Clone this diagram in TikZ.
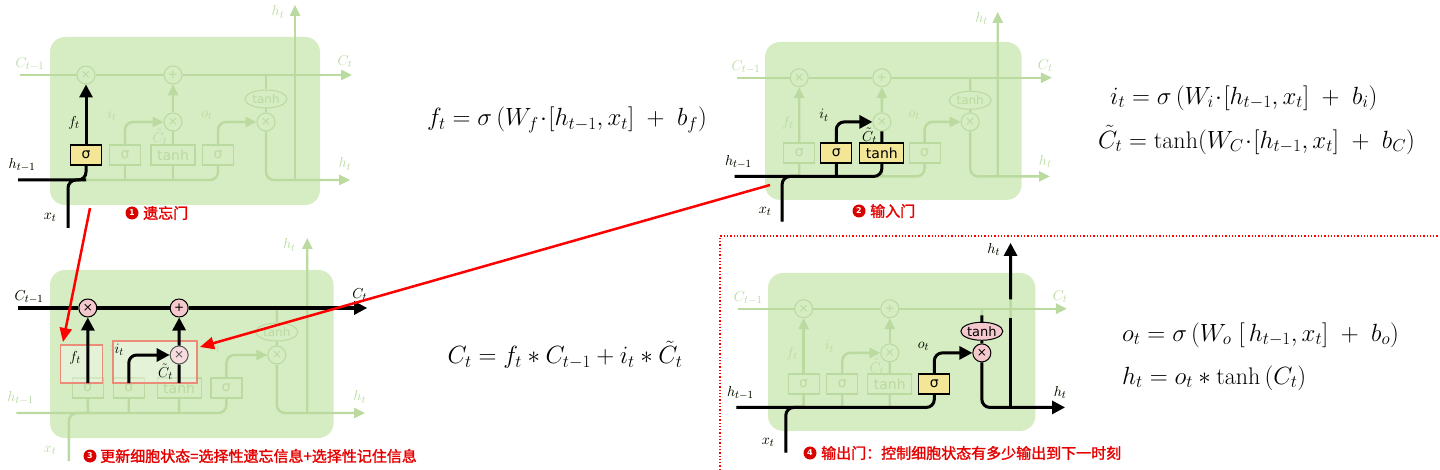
\documentclass[tikz,border=0pt]{standalone}
\usepackage{fontspec}
\usepackage{amsmath}
\usetikzlibrary{arrows.meta,shapes.geometric}
\newfontfamily\gf{DejaVu Sans}
\newfontfamily\cjk[FakeBold=1.6]{Noto Sans CJK SC}
\definecolor{cellbg}{RGB}{214,236,194}
\definecolor{faintc}{RGB}{186,218,160}
\definecolor{gatey}{RGB}{243,230,150}
\definecolor{opk}{RGB}{245,200,205}
\definecolor{salmon}{RGB}{235,140,120}
\tikzset{
 faint/.style={draw=faintc, line width=2.4pt},
 blk/.style={draw=black, line width=3pt},
 tip/.style={-{Triangle[length=11pt,width=10pt]}},
 btip/.style={-{Triangle[length=13pt,width=13pt]}},
 gate/.style={draw=faintc, line width=1.2pt, minimum width=31pt, minimum height=20pt, inner sep=0pt, font=\gf\fontsize{14}{14}\selectfont, text=faintc},
 op/.style={circle, draw=faintc, line width=1pt, minimum size=18pt, inner sep=0pt, font=\gf\fontsize{12}{12}\selectfont, text=faintc},
 lab/.style={text=faintc, font=\fontsize{15.5}{15}\selectfont, inner sep=0pt},
 blab/.style={text=black, font=\fontsize{15.5}{15}\selectfont, inner sep=0pt},
 hot/.style={fill=gatey, draw=black, text=black},
 hotop/.style={fill=opk, draw=black, text=black},
 redarr/.style={draw=red, line width=2.5pt, -{Triangle[length=14pt,width=12pt]}},
 badge/.style={circle, fill=red!85!black, text=white, inner sep=0pt, minimum size=13pt, font=\gf\bfseries\fontsize{8}{8}\selectfont},
 cn/.style={text=red!90!black, font=\cjk\fontsize{15}{15}\selectfont, anchor=west, inner sep=0pt},
 eq/.style={font=\fontsize{24}{28}\selectfont, inner sep=0pt},
}
\newcommand\lstmbase[1]{%
 \fill[cellbg, rounded corners=15pt] (0,0) rectangle (270,168);
 \node[gate] (#1ga) at (36,118) {σ};
 \node[gate] (#1gb) at (75,118) {σ};
 \node[gate, minimum width=44pt] (#1gc) at (123,118) {tanh};
 \node[gate] (#1gd) at (168,118) {σ};
 \node[op] (#1f) at (36,38) {×};
 \node[op] (#1p) at (123,38) {+};
 \node[op] (#1i) at (123,85) {×};
 \node[op] (#1o) at (216,85) {×};
 \node[op, ellipse, minimum width=42pt, minimum height=18pt] (#1th) at (216,62) {tanh};
 \coordinate (#1cin) at (-30,38); \coordinate (#1cout) at (302,38);
 \coordinate (#1hin) at (-32,143); \coordinate (#1hout) at (300,143);
 \coordinate (#1xin) at (18,191); \coordinate (#1hup) at (245,-32);
 \draw[faint,tip] (#1cin) -- (#1f) -- (#1p) -- (#1cout);
 \draw[faint, rounded corners=8pt] (#1hin) -- (168,143) -- (#1gd.south);
 \draw[faint, rounded corners=8pt] (#1xin) -- (18,143) -- (40,143);
 \draw[faint] (36,143) -- (#1ga) (75,143) -- (#1gb) (123,143) -- (#1gc);
 \draw[faint,tip] (#1ga) -- (#1f);
 \draw[faint,tip,rounded corners=8pt] (#1gb.north) |- (#1i.west);
 \draw[faint] (#1gc) -- (#1i);
 \draw[faint,tip] (#1i) -- (#1p);
 \draw[faint,tip,rounded corners=8pt] (#1gd.north) |- (#1o.west);
 \draw[faint] (216,38) -- (#1th) (#1th) -- (#1o);
 \draw[faint,tip,rounded corners=8pt] (#1o) |- (#1hout);
 \draw[faint,tip] (245,143) -- (#1hup);
 \node[lab] (#1lc1) at (-20,27) {$C_{t-1}$};
 \node[lab] (#1lc2) at (295,25) {$C_t$};
 \node[lab] (#1lh1) at (-28,128) {$h_{t-1}$};
 \node[lab] (#1lh2) at (295,127) {$h_t$};
 \node[lab] (#1lh3) at (228,-25) {$h_t$};
 \node[lab] (#1lx) at (0,180) {$x_t$};
 \node[lab] (#1lf) at (24,86) {$f_t$};
 \node[lab] (#1li) at (62,78) {$i_t$};
 \node[lab] (#1lct) at (110,100) {$\tilde C_t$};
 \node[lab] (#1lo) at (157,78) {$o_t$};
}
\begin{document}
\begin{tikzpicture}[x=1pt,y=-1pt]
\useasboundingbox (0,0) rectangle (1440,470);
% panel 1
\begin{scope}[shift={(50,37)}]
 \lstmbase{a}
 \draw[blk, rounded corners=8pt] (ahin) -- (36,143) -- (aga.south);
 \draw[blk, rounded corners=8pt] (axin) -- (18,143) -- (36,143);
 \node[gate,hot] (aga2) at (36,118) {σ};
 \draw[blk,btip] (aga2) -- (af.south);
 \node[blab] (alf2) at (24,86) {$f_t$};
 \node[blab] (alh) at (-28,128) {$h_{t-1}$};
 \node[blab] (alx) at (0,180) {$x_t$};
\end{scope}
% panel 2
\begin{scope}[shift={(765,42)},xscale=.95,yscale=.94]
 \lstmbase{b}
 \draw[blk, rounded corners=8pt] (bhin) -- (123,143) -- (bgc.south);
 \draw[blk, rounded corners=8pt] (bxin) -- (18,143) -- (36,143);
 \draw[blk] (75,143) -- (bgb);
 \node[gate,hot] (bgb2) at (75,118) {σ};
 \node[gate,hot,minimum width=44pt] (bgc2) at (123,118) {tanh};
 \draw[blk,btip,rounded corners=8pt] (bgb2.north) |- (bi.west);
 \draw[blk] (bgc2) -- (bi);
 \node[blab] (bli2) at (62,78) {$i_t$};
 \node[blab] (blct2) at (110,100) {$\tilde C_t$};
 \node[blab] (blh) at (-28,128) {$h_{t-1}$};
 \node[blab] (blx) at (0,180) {$x_t$};
\end{scope}
% panel 3
\begin{scope}[shift={(50,270)},xscale=1.05]
 \lstmbase{c}
 \draw[blk,btip] (ccin) -- (cf) -- (cp) -- (ccout);
 \node[op,hotop] (cf2) at (36,38) {×};
 \node[op,hotop] (cp2) at (123,38) {+};
 \node[op,hotop] (ci2) at (123,85) {×};
 \draw[fill=white, fill opacity=.35, draw=salmon, line width=1.5pt] (10,75) rectangle (50,113);
 \draw[fill=white, fill opacity=.35, draw=salmon, line width=1.5pt] (60,71) rectangle (140,113);
 \draw[blk,btip] (36,113) -- (cf2.south);
 \draw[blk,btip] (ci2) -- (cp2.south);
 \draw[blk,btip,rounded corners=8pt] (75,113) |- (ci2.west);
 \draw[blk] (123,113) -- (ci2);
 \node[blab] (clf2) at (24,88) {$f_t$};
 \node[blab] (cli2) at (66,80) {$i_t$};
 \node[blab] (clct2) at (110,102) {$\tilde C_t$};
 \node[blab] (clc1) at (-20,27) {$C_{t-1}$};
 \node[blab] (clc2) at (295,25) {$C_t$};
\end{scope}
% panel 4
\begin{scope}[shift={(768,273)},xscale=.99,yscale=.94]
 \lstmbase{d}
 \draw[blk, rounded corners=8pt] (dhin) -- (168,143) -- (dgd.south);
 \draw[blk, rounded corners=8pt] (dxin) -- (18,143) -- (36,143);
 \node[gate,hot] (dgd2) at (168,118) {σ};
 \node[op,hotop] (do2) at (216,85) {×};
 \node[op,ellipse,hotop,minimum width=42pt,minimum height=18pt,font=\gf\fontsize{13}{13}\selectfont] (dth2) at (216,62) {tanh};
 \draw[blk,btip,rounded corners=8pt] (dgd2.north) |- (do2.west);
 \draw[blk] (216,45) -- (dth2) (dth2) -- (do2);
 \draw[blk,btip,rounded corners=8pt] (do2) |- (dhout);
 \draw[blk] (245,143) -- (245,48);
 \draw[blk,btip] (245,28) -- (dhup);
 \node[blab] (dlo2) at (157,78) {$o_t$};
 \node[blab] (dlh) at (-28,128) {$h_{t-1}$};
 \node[blab] (dlx) at (0,180) {$x_t$};
 \node[blab] (dlh2) at (295,127) {$h_t$};
 \node[blab] (dlh3) at (228,-25) {$h_t$};
\end{scope}
% dotted frame
\coordinate (fa) at (720,470); \coordinate (fb) at (720,236); \coordinate (fc) at (1440,236);
\draw[red, dotted, line width=1.3pt] (fa) -- (fb) -- (fc);
% red arrows
\coordinate (r1a) at (90,208); \coordinate (r1b) at (63,342);
\coordinate (r2a) at (770,185); \coordinate (r2b) at (200,347);
\draw[redarr] (r1a) -- (r1b);
\draw[redarr] (r2a) -- (r2b);
% badges
\node[badge] (k1) at (132,213) {1}; \node[cn] (t1) at (143,213) {遗忘门};
\node[badge] (k2) at (859,211) {2}; \node[cn] (t2) at (870,211) {输入门};
\node[badge] (k3) at (90,456) {3}; \node[cn] (t3) at (100,456) {更新细胞状态=选择性遗忘信息+选择性记住信息};
\node[badge] (k4) at (810,453) {4}; \node[cn] (t4) at (821,453) {输出门：控制细胞状态有多少输出到下一时刻};
% equations
\node[eq] (e1) at (567,120) {$f_t=\sigma\left(W_f\!\cdot\![h_{t-1},x_t]\;+\;b_f\right)$};
\node[eq,anchor=west] (e2) at (1110,98) {$i_t=\sigma\left(W_i\!\cdot\![h_{t-1},x_t]\;+\;b_i\right)$};
\node[eq,anchor=west] (e3) at (1098,140) {$\tilde C_t=\tanh(W_C\!\cdot\![h_{t-1},x_t]\;+\;b_C)$};
\node[eq] (e4) at (565,355) {$C_t=f_t*C_{t-1}+i_t*\tilde C_t$};
\node[eq,anchor=west] (e5) at (1122,335) {$o_t=\sigma\left(W_o\;[\,h_{t-1},x_t]\;+\;b_o\right)$};
\node[eq,anchor=west] (e6) at (1122,378) {$h_t=o_t*\tanh\left(C_t\right)$};
\end{tikzpicture}
\end{document}
